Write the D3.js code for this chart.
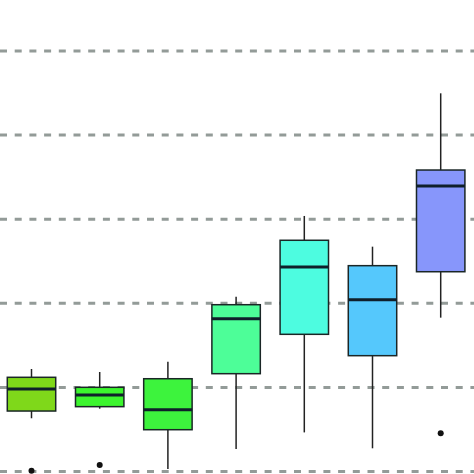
<!DOCTYPE html>
<html>
<head>
<meta charset="utf-8">
<script src="https://cdn.jsdelivr.net/npm/d3@7"></script>
<style>
    body { margin: 0; background: #fff; }
    svg { display: block; }
</style>
</head>
<body>
<svg width="474" height="474"></svg>
<script>
// groups, left to right
var groups = ['g1', 'g2', 'g3', 'g4', 'g5', 'g6', 'g7'];
var colors = ['#7fd81a', '#3cf52e', '#3df33d', '#4dfe98', '#4dfce0', '#55c8fc', '#8796fb'];

// box stats
var whiskerLow  = [0.634, 0.748, 0.031, 0.269, 0.466, 0.277, 1.830];
var q1          = [0.720, 0.772, 0.498, 1.164, 1.632, 1.378, 2.376];
var median      = [0.982, 0.911, 0.736, 1.818, 2.432, 2.044, 3.395];
var q3          = [1.121, 1.002, 1.104, 1.984, 2.750, 2.448, 3.585];
var whiskerHigh = [1.220, 1.184, 1.306, 2.079, 3.039, 2.674, 4.497];

// outliers
var outlierGroup = ['g1', 'g2', 'g7'];
var outlierValue = [0.011, 0.078, 0.455];

// grid lines
var gridTicks = [0, 1, 2, 3, 4, 5];

var svg = d3.select('svg');

var xScale = d3.scaleBand()
    .domain(groups)
    .range([-2.6, 474.8])
    .paddingInner(0.29)
    .paddingOuter(0.145);

var yScale = d3.scaleLinear()
    .domain([0, 5])
    .range([471.6, 51]);

//grid
svg.append('g')
    .attr('class', 'grid')
    .selectAll('line')
    .data(gridTicks)
    .enter()
    .append('line')
    .attr('x1', 0)
    .attr('x2', 474)
    .attr('y1', d => yScale(d))
    .attr('y2', d => yScale(d))
    .style('stroke', '#939b98')
    .style('stroke-width', 3)
    .style('stroke-dasharray', '7,7.7');

var data = groups.map((g, i) => ({
    g: g, lo: whiskerLow[i], q1: q1[i], med: median[i], q3: q3[i], hi: whiskerHigh[i], color: colors[i]
}));

var box = svg.selectAll('.box')
    .data(data)
    .enter()
    .append('g')
    .attr('class', 'box');

var cx = d => xScale(d.g) + xScale.bandwidth() / 2;

//whiskers
box.append('line')
    .attr('x1', cx).attr('x2', cx)
    .attr('y1', d => yScale(d.hi))
    .attr('y2', d => yScale(d.q3))
    .style('stroke', '#222')
    .style('stroke-width', 1.5);
box.append('line')
    .attr('x1', cx).attr('x2', cx)
    .attr('y1', d => yScale(d.q1))
    .attr('y2', d => yScale(d.lo))
    .style('stroke', '#222')
    .style('stroke-width', 1.5);

//box body
box.append('rect')
    .attr('x', d => xScale(d.g))
    .attr('y', d => yScale(d.q3))
    .attr('width', xScale.bandwidth())
    .attr('height', d => yScale(d.q1) - yScale(d.q3))
    .style('fill', d => d.color)
    .style('stroke', '#1a2626')
    .style('stroke-width', 1.5);

//median
box.append('line')
    .attr('x1', d => xScale(d.g))
    .attr('x2', d => xScale(d.g) + xScale.bandwidth())
    .attr('y1', d => yScale(d.med))
    .attr('y2', d => yScale(d.med))
    .style('stroke', '#0f1f2a')
    .style('stroke-width', 3);

//outliers
svg.selectAll('.outlier')
    .data(outlierGroup.map((g, i) => ({ g: g, v: outlierValue[i] })))
    .enter()
    .append('circle')
    .attr('class', 'outlier')
    .attr('cx', d => xScale(d.g) + xScale.bandwidth() / 2)
    .attr('cy', d => yScale(d.v))
    .attr('r', 3)
    .style('fill', '#111');
</script>
</body>
</html>
